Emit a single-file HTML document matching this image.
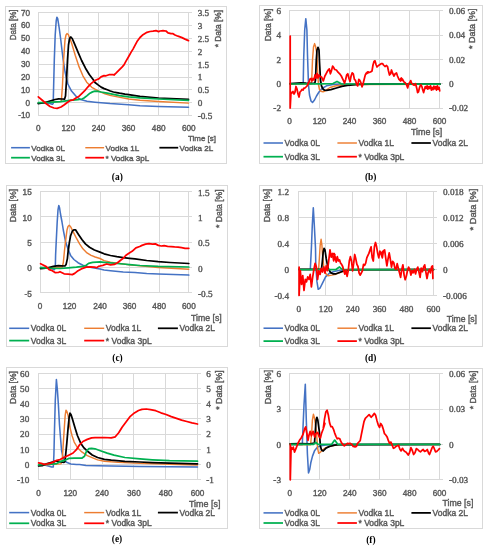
<!DOCTYPE html>
<html><head><meta charset="utf-8"><style>
html,body{margin:0;padding:0;background:#fff;}
svg{display:block;}
text{stroke:#595959;stroke-width:0.4px;}
.t{font-family:"Liberation Sans", Arial, sans-serif;font-size:8.2px;fill:#595959;}
.l{font-family:"Liberation Sans", Arial, sans-serif;font-size:8.1px;fill:#595959;}
.ts{font-family:"Liberation Serif",serif;font-size:9.2px;fill:#595959;}
.cap{font-family:"Liberation Serif",serif;font-size:9.4px;font-weight:bold;fill:#000;stroke:none;}
</style></head><body>
<svg width="489" height="550" viewBox="0 0 489 550">
<rect x="5.5" y="6.5" width="221.0" height="157.0" fill="#fff" stroke="#d9d9d9" stroke-width="1"/>
<path d="M38.0,12.5H192.0 M38.0,25.5H192.0 M38.0,38.5H192.0 M38.0,51.5H192.0 M38.0,64.5H192.0 M38.0,77.5H192.0 M38.0,89.5H192.0 M38.0,102.5H192.0 M38.0,115.5H192.0 M38.5,12.0V116.0 M68.5,12.0V116.0 M98.5,12.0V116.0 M128.5,12.0V116.0 M158.5,12.0V116.0 M188.5,12.0V116.0" stroke="#d9d9d9" stroke-width="1" fill="none"/>
<text x="30.00" y="15.60" text-anchor="end" class="t">70</text>
<text x="30.00" y="28.45" text-anchor="end" class="t">60</text>
<text x="30.00" y="41.30" text-anchor="end" class="t">50</text>
<text x="30.00" y="54.15" text-anchor="end" class="t">40</text>
<text x="30.00" y="67.00" text-anchor="end" class="t">30</text>
<text x="30.00" y="79.85" text-anchor="end" class="t">20</text>
<text x="30.00" y="92.70" text-anchor="end" class="t">10</text>
<text x="30.00" y="105.55" text-anchor="end" class="t">0</text>
<text x="30.00" y="118.40" text-anchor="end" class="t">-10</text>
<text x="197.70" y="16.10" class="ts">3.5</text>
<text x="197.70" y="28.95" class="ts">3</text>
<text x="197.70" y="41.80" class="ts">2.5</text>
<text x="197.70" y="54.65" class="ts">2</text>
<text x="197.70" y="67.50" class="ts">1.5</text>
<text x="197.70" y="80.35" class="ts">1</text>
<text x="197.70" y="93.20" class="ts">0.5</text>
<text x="197.70" y="106.05" class="ts">0</text>
<text x="197.70" y="118.90" class="ts">-0.5</text>
<text x="38.30" y="130.60" text-anchor="middle" class="t">0</text>
<text x="68.40" y="130.60" text-anchor="middle" class="t">120</text>
<text x="98.50" y="130.60" text-anchor="middle" class="t">240</text>
<text x="128.60" y="130.60" text-anchor="middle" class="t">360</text>
<text x="158.70" y="130.60" text-anchor="middle" class="t">480</text>
<text x="188.80" y="130.60" text-anchor="middle" class="t">600</text>
<text x="188.00" y="141.10" textLength="28" lengthAdjust="spacingAndGlyphs" class="t" style="font-size:8.1px">Time [s]</text>
<text transform="translate(16.30,24.9) rotate(-90)" text-anchor="middle" textLength="30.8" lengthAdjust="spacingAndGlyphs" class="t">Data [%]</text>
<text transform="translate(220.50,28.7) rotate(-90)" text-anchor="middle" textLength="37.3" lengthAdjust="spacingAndGlyphs" class="t">* Data [%]</text>
<path d="M38.3,103.2 45.0,103.2 50.0,103.5 52.3,104.3 53.2,103.5 54.3,60.0 55.2,35.0 56.2,21.0 56.9,17.2 57.7,18.6 59.2,28.0 60.8,40.0 62.2,52.0 63.2,60.0 65.1,72.0 67.6,83.5 71.5,91.1 76.5,96.8 80.4,99.4 87.0,101.3 95.0,102.2 110.0,103.6 128.7,104.8 140.0,105.8 158.6,106.5 188.5,107.2" fill="none" stroke="#4472c4" stroke-width="1.55" stroke-linejoin="round" stroke-linecap="round"/>
<path d="M38.3,103.0 45.0,102.5 50.0,102.0 55.0,101.7 61.3,101.5 62.5,85.0 63.6,60.0 65.0,40.0 66.0,35.0 67.0,33.6 68.3,34.5 71.5,42.7 75.3,55.5 79.1,66.9 82.9,75.8 86.7,82.2 91.8,87.3 95.0,89.2 98.6,91.1 105.0,93.8 110.0,95.4 120.0,97.4 128.7,99.0 140.0,100.3 158.6,101.5 188.5,103.1" fill="none" stroke="#ed7d31" stroke-width="1.45" stroke-linejoin="round" stroke-linecap="round"/>
<path d="M38.3,103.6 45.0,102.5 50.0,101.0 55.0,99.5 58.7,98.8 62.0,99.0 64.5,99.2 65.5,96.0 66.5,80.0 67.5,60.0 68.5,45.0 69.6,38.5 70.8,37.0 72.2,38.5 74.0,42.7 77.8,51.6 81.6,60.5 85.5,68.2 89.3,74.5 93.1,79.6 95.0,82.5 98.1,84.9 101.1,87.1 104.2,88.6 107.3,89.8 110.3,91.0 113.4,92.0 116.5,92.6 119.5,93.2 125.0,94.1 128.7,94.6 135.0,95.6 140.0,96.4 158.6,98.0 188.5,99.3" fill="none" stroke="#000000" stroke-width="1.75" stroke-linejoin="round" stroke-linecap="round"/>
<path d="M38.3,102.7 50.0,102.3 60.0,101.6 70.0,100.4 78.0,99.6 82.0,99.0 84.0,98.0 87.1,95.6 90.0,93.2 92.5,91.9 95.0,91.1 98.1,91.3 101.1,92.0 107.3,93.2 113.4,94.4 119.5,95.6 125.0,96.3 128.7,96.8 135.0,97.3 140.0,97.8 158.6,99.0 188.5,100.3" fill="none" stroke="#00b050" stroke-width="1.75" stroke-linejoin="round" stroke-linecap="round"/>
<path d="M38.3,96.9 42.0,100.0 46.0,103.5 50.0,106.5 54.0,108.0 57.1,108.3 61.0,107.0 64.0,105.0 67.6,102.2 70.5,100.3 73.4,99.8 76.0,98.0 79.1,96.2 82.0,93.3 85.5,89.8 88.0,86.8 90.5,84.1 94.4,80.9 96.5,79.8 98.8,78.9 101.0,76.9 104.0,75.6 106.0,75.8 109.0,74.7 113.0,74.7 114.0,75.0 116.0,73.1 119.0,70.1 122.0,67.1 124.0,64.9 126.0,61.1 128.7,56.5 131.0,52.4 133.0,49.1 135.0,45.3 137.0,41.6 140.0,37.5 143.0,34.7 147.0,32.3 150.0,31.5 153.0,31.2 156.0,30.7 158.6,31.6 160.0,31.0 163.0,30.7 166.0,31.0 168.0,32.9 171.0,33.6 173.0,33.7 175.0,35.0 178.0,36.2 182.0,37.6 185.0,39.1 188.5,40.6" fill="none" stroke="#ff0000" stroke-width="1.75" stroke-linejoin="round" stroke-linecap="round"/>
<path d="M11.1,147.7h18.8" stroke="#4472c4" stroke-width="1.55"/>
<text x="31.30" y="150.65" class="l" style="font-size:8.1px">Vodka 0L</text>
<path d="M85.3,147.7h18.8" stroke="#ed7d31" stroke-width="1.45"/>
<text x="105.50" y="150.65" class="l" style="font-size:8.1px">Vodka 1L</text>
<path d="M159.4,147.7h18.8" stroke="#000000" stroke-width="1.75"/>
<text x="179.60" y="150.65" class="l" style="font-size:8.1px">Vodka 2L</text>
<path d="M11.1,157.7h18.8" stroke="#00b050" stroke-width="1.75"/>
<text x="31.30" y="160.65" class="l" style="font-size:8.1px">Vodka 3L</text>
<path d="M85.3,157.7h18.8" stroke="#ff0000" stroke-width="1.75"/>
<text x="105.50" y="160.65" class="l" style="font-size:8.1px">* Vodka 3pL</text>
<text x="117.3" y="179.90" text-anchor="middle" class="cap">(a)</text>
<rect x="259.5" y="5.5" width="223.0" height="158.0" fill="#fff" stroke="#d9d9d9" stroke-width="1"/>
<path d="M289.0,10.5H443.0 M289.0,35.5H443.0 M289.0,59.5H443.0 M289.0,83.5H443.0 M289.0,108.5H443.0 M289.5,10.0V109.0 M319.5,10.0V109.0 M349.5,10.0V109.0 M379.5,10.0V109.0 M409.5,10.0V109.0 M439.5,10.0V109.0" stroke="#d9d9d9" stroke-width="1" fill="none"/>
<text x="281.00" y="14.10" text-anchor="end" class="ts">6</text>
<text x="281.00" y="38.40" text-anchor="end" class="ts">4</text>
<text x="281.00" y="62.70" text-anchor="end" class="ts">2</text>
<text x="281.00" y="87.00" text-anchor="end" class="ts">0</text>
<text x="281.00" y="111.30" text-anchor="end" class="ts">-2</text>
<text x="449.00" y="14.10" class="ts">0.06</text>
<text x="449.00" y="38.40" class="ts">0.04</text>
<text x="449.00" y="62.70" class="ts">0.02</text>
<text x="449.00" y="87.00" class="ts">0</text>
<text x="449.00" y="111.30" class="ts">-0.02</text>
<text x="289.60" y="124.10" text-anchor="middle" class="t">0</text>
<text x="319.60" y="124.10" text-anchor="middle" class="t">120</text>
<text x="349.60" y="124.10" text-anchor="middle" class="t">240</text>
<text x="379.60" y="124.10" text-anchor="middle" class="t">360</text>
<text x="409.60" y="124.10" text-anchor="middle" class="t">480</text>
<text x="439.60" y="124.10" text-anchor="middle" class="t">600</text>
<text x="410.90" y="135.10" textLength="31.4" lengthAdjust="spacingAndGlyphs" class="t" style="font-size:8.5px">Time [s]</text>
<text transform="translate(270.50,25) rotate(-90)" text-anchor="middle" textLength="32.5" lengthAdjust="spacingAndGlyphs" class="t">Data [%]</text>
<text transform="translate(474.80,28.65) rotate(-90)" text-anchor="middle" textLength="40.5" lengthAdjust="spacingAndGlyphs" class="t">* Data [%]</text>
<path d="M290.0,84.0 302.0,84.0 303.2,84.0 303.7,58.0 304.7,30.0 305.8,18.7 306.9,30.0 307.5,55.0 308.5,85.0 309.5,95.0 311.0,101.0 312.5,102.5 314.5,100.0 316.5,96.0 319.0,92.0 322.0,88.5 326.5,85.8 333.1,84.4 341.8,84.0 440.0,84.0" fill="none" stroke="#4472c4" stroke-width="1.55" stroke-linejoin="round" stroke-linecap="round"/>
<path d="M290.0,84.0 311.0,84.0 311.7,80.0 312.5,60.0 313.5,47.0 314.6,43.6 315.7,47.0 317.0,55.0 317.8,75.0 318.5,85.0 319.5,89.5 321.0,91.2 323.0,91.8 325.0,91.0 327.0,89.5 330.0,87.5 335.0,86.0 342.0,85.0 350.0,84.5 440.0,84.3" fill="none" stroke="#ed7d31" stroke-width="1.45" stroke-linejoin="round" stroke-linecap="round"/>
<path d="M290.0,83.6 301.0,82.8 306.0,83.2 314.8,83.3 315.5,80.0 316.3,60.0 317.0,50.0 318.0,47.3 319.0,50.0 319.5,62.0 320.5,80.0 321.5,86.0 323.0,89.0 324.5,90.2 326.5,90.4 330.9,89.7 336.4,88.0 341.8,86.4 347.3,85.3 352.8,84.8 358.2,84.5 370.0,84.2 440.0,84.1" fill="none" stroke="#000000" stroke-width="1.75" stroke-linejoin="round" stroke-linecap="round"/>
<path d="M290.0,84.0 320.0,83.8 333.0,83.6 335.0,82.5 337.0,81.5 339.0,82.5 341.0,83.8 360.0,84.0 440.0,84.0" fill="none" stroke="#00b050" stroke-width="1.75" stroke-linejoin="round" stroke-linecap="round"/>
<path d="M290.2,36.0 290.2,108.0 291.0,92.0 292.0,93.0 293.0,91.5 294.0,94.0 295.0,92.0 296.0,86.5 297.0,89.0 298.0,94.0 299.0,97.0 300.0,92.0 301.0,91.0 302.0,89.5 303.0,90.0 304.0,88.0 305.0,88.0 306.0,87.0 307.0,86.0 308.0,84.0 309.0,82.0 310.0,79.0 311.0,78.5 312.0,81.0 313.0,78.5 314.0,80.0 315.0,75.0 316.0,78.0 317.0,73.5 318.0,78.0 319.0,75.0 320.0,76.5 321.6,77.1 323.3,80.9 324.9,76.0 326.6,72.8 328.2,70.0 329.3,68.9 330.4,73.8 331.5,70.6 332.6,66.2 333.6,67.3 334.7,69.5 336.4,70.0 338.0,72.2 339.7,73.8 341.3,76.0 342.9,79.3 344.6,83.1 345.7,79.3 346.7,74.9 347.8,73.8 348.9,78.2 350.0,81.5 351.1,76.0 352.2,72.8 353.3,73.8 354.4,79.3 355.5,80.4 356.6,84.2 357.7,85.9 358.8,79.3 359.8,80.4 360.9,82.6 362.0,86.9 363.1,83.7 364.2,79.3 365.3,74.9 366.4,72.8 368.0,72.8 366.0,74.0 367.0,72.5 368.0,71.8 369.0,72.5 370.5,72.0 372.0,71.0 373.0,65.0 374.0,61.5 375.0,60.8 376.0,64.5 377.0,67.0 378.5,65.5 380.0,64.5 381.5,63.5 382.5,63.5 383.5,65.0 385.0,66.5 386.5,65.5 387.5,66.5 388.5,71.0 389.5,75.0 390.5,74.0 391.5,70.0 392.5,73.0 394.0,76.0 395.0,74.0 396.5,73.0 397.5,76.0 399.0,79.5 400.5,81.0 401.5,78.5 403.0,80.5 400.0,79.8 401.3,78.0 402.6,79.3 403.9,81.9 405.2,82.8 406.4,84.5 407.7,87.9 408.6,84.1 409.9,82.3 410.7,80.6 411.6,83.2 412.9,84.5 414.2,85.3 415.5,83.6 416.8,88.4 417.6,92.6 418.5,91.8 419.3,88.4 420.2,85.8 421.0,84.9 421.9,86.6 422.8,90.1 423.6,92.6 424.5,89.2 425.3,86.6 426.2,88.4 427.1,85.8 427.9,89.2 428.8,86.6 429.6,88.4 430.5,85.8 431.4,90.1 432.2,87.5 433.1,89.6 433.9,86.2 434.8,88.8 435.7,86.6 436.5,90.1 437.4,85.8 438.2,89.2 439.1,87.5 439.7,90.9" fill="none" stroke="#ff0000" stroke-width="1.75" stroke-linejoin="round" stroke-linecap="round"/>
<path d="M263.5,143h19.5" stroke="#4472c4" stroke-width="1.55"/>
<text x="284.60" y="145.95" class="l" style="font-size:8.5px">Vodka 0L</text>
<path d="M337.4,143h19.5" stroke="#ed7d31" stroke-width="1.45"/>
<text x="358.50" y="145.95" class="l" style="font-size:8.5px">Vodka 1L</text>
<path d="M411.4,143h19.5" stroke="#000000" stroke-width="1.75"/>
<text x="432.50" y="145.95" class="l" style="font-size:8.5px">Vodka 2L</text>
<path d="M263.5,156.7h19.5" stroke="#00b050" stroke-width="1.75"/>
<text x="284.60" y="159.65" class="l" style="font-size:8.5px">Vodka 3L</text>
<path d="M337.4,156.7h19.5" stroke="#ff0000" stroke-width="1.75"/>
<text x="358.50" y="159.65" class="l" style="font-size:8.5px">* Vodka 3pL</text>
<text x="370.7" y="179.90" text-anchor="middle" class="cap">(b)</text>
<rect x="6.5" y="185.5" width="221.0" height="161.0" fill="#fff" stroke="#d9d9d9" stroke-width="1"/>
<path d="M40.0,191.5H192.0 M40.0,216.5H192.0 M40.0,242.5H192.0 M40.0,267.5H192.0 M40.0,292.5H192.0 M40.5,191.0V293.0 M69.5,191.0V293.0 M100.5,191.0V293.0 M129.5,191.0V293.0 M159.5,191.0V293.0 M188.5,191.0V293.0" stroke="#d9d9d9" stroke-width="1" fill="none"/>
<text x="31.70" y="195.30" text-anchor="end" class="t">15</text>
<text x="31.70" y="220.60" text-anchor="end" class="t">10</text>
<text x="31.70" y="245.90" text-anchor="end" class="t">5</text>
<text x="31.70" y="271.20" text-anchor="end" class="t">0</text>
<text x="31.70" y="296.50" text-anchor="end" class="t">-5</text>
<text x="198.00" y="195.80" class="ts">1.5</text>
<text x="198.00" y="221.10" class="ts">1</text>
<text x="198.00" y="246.40" class="ts">0.5</text>
<text x="198.00" y="271.70" class="ts">0</text>
<text x="198.00" y="297.00" class="ts">-0.5</text>
<text x="40.10" y="309.00" text-anchor="middle" class="t">0</text>
<text x="69.60" y="309.00" text-anchor="middle" class="t">120</text>
<text x="100.10" y="309.00" text-anchor="middle" class="t">240</text>
<text x="129.60" y="309.00" text-anchor="middle" class="t">360</text>
<text x="159.20" y="309.00" text-anchor="middle" class="t">480</text>
<text x="188.90" y="309.00" text-anchor="middle" class="t">600</text>
<text x="191.00" y="320.70" textLength="30.7" lengthAdjust="spacingAndGlyphs" class="t" style="font-size:8.5px">Time [s]</text>
<text transform="translate(15.80,205.5) rotate(-90)" text-anchor="middle" textLength="33.5" lengthAdjust="spacingAndGlyphs" class="t">Data [%]</text>
<text transform="translate(222.00,208.7) rotate(-90)" text-anchor="middle" textLength="38.7" lengthAdjust="spacingAndGlyphs" class="t">* Data [%]</text>
<path d="M40.5,267.6 50.0,267.8 54.4,269.7 55.3,268.0 55.6,255.0 56.3,240.0 57.2,222.0 58.0,210.0 58.8,205.5 59.6,208.0 60.5,214.0 62.0,222.0 63.3,230.0 65.7,242.3 68.2,249.6 70.6,255.4 73.9,259.5 78.0,262.7 82.9,265.2 87.8,266.8 92.7,267.8 100.0,269.1 104.1,270.0 110.5,270.7 123.2,272.0 135.0,272.4 146.7,273.4 158.3,274.0 188.8,275.1" fill="none" stroke="#4472c4" stroke-width="1.55" stroke-linejoin="round" stroke-linecap="round"/>
<path d="M40.5,267.8 55.0,267.2 62.3,267.0 63.3,262.7 64.5,250.5 65.7,239.8 67.0,230.0 68.0,226.5 69.2,225.3 70.5,226.5 73.1,231.6 76.4,238.2 79.6,243.9 82.9,248.8 87.0,252.9 91.1,255.4 95.2,257.0 100.0,258.5 104.1,260.6 110.5,262.1 116.8,263.1 123.2,264.0 129.5,264.9 140.0,265.9 158.3,267.5 188.8,269.3" fill="none" stroke="#ed7d31" stroke-width="1.45" stroke-linejoin="round" stroke-linecap="round"/>
<path d="M40.6,268.6 48.2,267.8 53.3,266.4 58.4,265.6 64.9,266.0 66.1,264.4 67.4,258.6 68.2,250.5 69.4,242.3 70.6,235.7 72.3,231.2 73.8,229.8 75.5,229.8 78.8,234.9 82.1,239.8 85.4,243.9 89.5,247.2 94.4,250.0 100.0,252.1 104.1,253.8 110.5,255.5 116.8,256.7 123.2,257.6 129.5,258.3 135.0,258.8 146.7,260.5 158.3,261.7 170.0,262.5 188.8,263.5" fill="none" stroke="#000000" stroke-width="1.75" stroke-linejoin="round" stroke-linecap="round"/>
<path d="M40.6,267.6 48.2,268.1 60.0,268.5 68.2,267.8 76.4,267.2 82.9,266.4 86.2,265.2 88.6,263.4 92.7,262.3 100.0,261.9 104.1,262.3 110.5,262.9 116.8,263.4 123.2,264.0 129.5,264.6 140.0,265.5 158.3,266.4 188.8,267.0" fill="none" stroke="#00b050" stroke-width="1.75" stroke-linejoin="round" stroke-linecap="round"/>
<path d="M40.6,263.7 43.1,265.0 46.2,266.6 49.2,269.7 52.3,270.7 55.4,272.7 58.4,272.5 60.0,271.7 64.1,273.8 68.2,274.2 72.3,274.6 74.7,273.4 77.2,271.3 81.3,268.9 86.2,267.2 90.3,266.8 94.4,267.2 96.8,267.6 98.5,266.4 100.0,266.0 102.8,265.3 106.6,264.0 110.5,264.9 114.3,264.4 117.5,262.7 120.6,260.2 123.2,258.3 125.7,255.5 128.9,253.2 132.1,251.3 135.9,247.8 139.7,246.5 142.0,245.4 145.5,244.2 149.0,243.6 152.5,244.2 155.4,243.9 158.3,245.4 161.2,246.0 164.1,245.7 167.6,246.3 171.1,246.6 174.6,246.9 178.1,247.1 181.6,247.7 185.1,248.3 188.8,248.3" fill="none" stroke="#ff0000" stroke-width="1.75" stroke-linejoin="round" stroke-linecap="round"/>
<path d="M9.2,328.3h20" stroke="#4472c4" stroke-width="1.55"/>
<text x="30.80" y="331.25" class="l" style="font-size:8.5px">Vodka 0L</text>
<path d="M84.2,328.3h20" stroke="#ed7d31" stroke-width="1.45"/>
<text x="105.80" y="331.25" class="l" style="font-size:8.5px">Vodka 1L</text>
<path d="M157.9,328.3h20" stroke="#000000" stroke-width="1.75"/>
<text x="179.50" y="331.25" class="l" style="font-size:8.5px">Vodka 2L</text>
<path d="M9.2,340.6h20" stroke="#00b050" stroke-width="1.75"/>
<text x="30.80" y="343.55" class="l" style="font-size:8.5px">Vodka 3L</text>
<path d="M84.2,340.6h20" stroke="#ff0000" stroke-width="1.75"/>
<text x="105.80" y="343.55" class="l" style="font-size:8.5px">* Vodka 3pL</text>
<text x="117.5" y="361.10" text-anchor="middle" class="cap">(c)</text>
<rect x="259.5" y="185.5" width="223.0" height="161.0" fill="#fff" stroke="#d9d9d9" stroke-width="1"/>
<path d="M298.0,191.5H437.0 M298.0,217.5H437.0 M298.0,243.5H437.0 M298.0,269.5H437.0 M298.0,295.5H437.0 M298.5,191.0V296.0 M325.5,191.0V296.0 M352.5,191.0V296.0 M379.5,191.0V296.0 M406.5,191.0V296.0 M433.5,191.0V296.0" stroke="#d9d9d9" stroke-width="1" fill="none"/>
<text x="289.00" y="195.10" text-anchor="end" class="ts">1.2</text>
<text x="289.00" y="220.98" text-anchor="end" class="ts">0.8</text>
<text x="289.00" y="246.85" text-anchor="end" class="ts">0.4</text>
<text x="289.00" y="272.73" text-anchor="end" class="ts">0</text>
<text x="289.00" y="298.60" text-anchor="end" class="ts">-0.4</text>
<text x="443.00" y="195.10" class="ts">0.018</text>
<text x="443.00" y="220.98" class="ts">0.012</text>
<text x="443.00" y="246.85" class="ts">0.006</text>
<text x="443.00" y="272.73" class="ts">0</text>
<text x="443.00" y="298.60" class="ts">-0.006</text>
<text x="298.80" y="311.60" text-anchor="middle" class="ts">0</text>
<text x="325.72" y="311.60" text-anchor="middle" class="ts">120</text>
<text x="352.64" y="311.60" text-anchor="middle" class="ts">240</text>
<text x="379.56" y="311.60" text-anchor="middle" class="ts">360</text>
<text x="406.48" y="311.60" text-anchor="middle" class="ts">480</text>
<text x="433.40" y="311.60" text-anchor="middle" class="ts">600</text>
<text x="446.70" y="321.70" textLength="30.3" lengthAdjust="spacingAndGlyphs" class="t" style="font-size:8.5px">Time [s]</text>
<text transform="translate(270.30,205.5) rotate(-90)" text-anchor="middle" textLength="33.5" lengthAdjust="spacingAndGlyphs" class="t">Data [%]</text>
<text transform="translate(475.90,209.6) rotate(-90)" text-anchor="middle" textLength="41.7" lengthAdjust="spacingAndGlyphs" class="t">* Data [%]</text>
<path d="M299.0,269.5 310.3,269.5 311.4,248.0 312.3,225.0 313.3,207.8 314.3,225.0 315.5,248.0 315.8,267.0 317.0,281.9 318.2,289.3 320.1,288.0 322.5,283.1 325.6,276.9 329.3,273.2 334.0,271.5 340.0,270.3 346.0,269.7 433.5,269.5" fill="none" stroke="#4472c4" stroke-width="1.55" stroke-linejoin="round" stroke-linecap="round"/>
<path d="M299.0,269.5 318.6,269.5 319.4,258.0 320.2,245.0 321.1,239.3 321.9,245.0 322.5,254.7 323.8,267.0 325.6,273.2 328.1,275.7 331.8,275.1 336.0,274.2 340.0,272.5 345.0,270.5 350.0,269.7 433.5,269.5" fill="none" stroke="#ed7d31" stroke-width="1.45" stroke-linejoin="round" stroke-linecap="round"/>
<path d="M299.0,269.3 321.5,269.3 322.3,262.0 323.2,252.0 324.1,248.3 325.0,250.0 326.2,258.4 328.1,268.3 330.6,272.6 333.0,273.8 336.0,273.8 339.5,272.5 344.9,270.5 350.0,269.7 433.5,269.5" fill="none" stroke="#000000" stroke-width="1.75" stroke-linejoin="round" stroke-linecap="round"/>
<path d="M299.0,269.5 336.0,269.5 338.0,268.0 339.5,267.0 341.0,268.5 343.0,269.5 433.5,269.5" fill="none" stroke="#00b050" stroke-width="1.75" stroke-linejoin="round" stroke-linecap="round"/>
<path d="M299.1,267.0 299.1,295.4 300.3,270.7 301.6,284.3 302.8,275.7 304.0,290.5 305.3,279.4 306.5,281.9 307.7,276.9 309.0,279.4 310.2,274.4 311.4,286.8 312.7,276.9 313.9,269.5 315.1,263.3 316.4,267.0 317.6,279.4 318.8,270.7 320.1,274.4 321.3,268.3 322.5,272.0 323.8,267.0 325.0,273.2 326.2,265.8 327.5,270.7 328.7,260.9 330.0,249.8 331.2,257.2 332.4,253.5 333.7,260.9 334.9,254.7 334.0,253.4 335.1,256.7 336.2,262.1 337.3,256.7 338.4,261.0 339.5,259.9 340.6,263.2 341.6,264.3 342.7,266.5 343.8,270.9 344.9,274.1 346.0,269.8 347.1,276.3 348.2,270.9 349.3,261.0 350.4,256.7 351.5,261.0 352.6,270.9 353.7,263.2 354.7,254.5 355.8,258.8 356.9,264.3 358.0,266.5 359.1,273.0 360.2,275.2 361.3,273.0 362.4,270.9 363.5,264.3 364.6,265.4 365.7,263.2 366.8,257.8 367.8,255.6 368.9,253.4 370.0,250.1 371.1,246.8 372.2,257.8 373.3,261.0 374.4,246.8 375.5,242.5 376.6,246.8 377.7,253.4 378.8,257.8 379.9,251.2 380.9,253.4 382.0,256.7 383.1,251.2 381.1,253.3 382.3,257.9 383.4,251.0 384.6,249.9 385.7,257.9 386.9,265.9 388.0,259.1 389.2,252.8 390.3,259.1 391.5,267.1 392.6,261.3 393.7,262.5 394.9,268.2 396.0,269.4 397.2,263.6 398.3,268.2 399.5,272.8 400.6,277.4 401.8,269.4 402.9,264.8 404.1,275.1 405.2,279.7 406.3,276.2 407.5,270.5 408.6,267.1 409.8,269.4 410.9,275.1 412.1,270.5 413.2,272.8 414.4,269.4 415.5,273.9 416.7,269.4 417.8,267.1 418.9,271.7 420.1,277.4 421.2,268.2 422.4,271.7 423.5,267.1 424.7,264.8 425.8,271.7 427.0,278.5 428.1,272.8 429.3,269.4 430.4,272.8 431.5,267.1 432.5,265.9 432.9,278.5" fill="none" stroke="#ff0000" stroke-width="1.75" stroke-linejoin="round" stroke-linecap="round"/>
<path d="M263.5,328.2h19.5" stroke="#4472c4" stroke-width="1.55"/>
<text x="284.60" y="331.15" class="l" style="font-size:8.5px">Vodka 0L</text>
<path d="M337.4,328.2h19.5" stroke="#ed7d31" stroke-width="1.45"/>
<text x="358.50" y="331.15" class="l" style="font-size:8.5px">Vodka 1L</text>
<path d="M411.4,328.2h19.5" stroke="#000000" stroke-width="1.75"/>
<text x="432.50" y="331.15" class="l" style="font-size:8.5px">Vodka 2L</text>
<path d="M263.5,341.1h19.5" stroke="#00b050" stroke-width="1.75"/>
<text x="284.60" y="344.05" class="l" style="font-size:8.5px">Vodka 3L</text>
<path d="M337.4,341.1h19.5" stroke="#ff0000" stroke-width="1.75"/>
<text x="358.50" y="344.05" class="l" style="font-size:8.5px">* Vodka 3pL</text>
<text x="370.7" y="360.50" text-anchor="middle" class="cap">(d)</text>
<rect x="6.5" y="367.5" width="221.0" height="161.0" fill="#fff" stroke="#d9d9d9" stroke-width="1"/>
<path d="M38.0,373.5H201.0 M38.0,388.5H201.0 M38.0,403.5H201.0 M38.0,418.5H201.0 M38.0,434.5H201.0 M38.0,449.5H201.0 M38.0,464.5H201.0 M38.0,479.5H201.0 M38.5,373.0V480.0 M70.5,373.0V480.0 M102.5,373.0V480.0 M133.5,373.0V480.0 M165.5,373.0V480.0 M197.5,373.0V480.0" stroke="#d9d9d9" stroke-width="1" fill="none"/>
<text x="29.30" y="376.80" text-anchor="end" class="ts">60</text>
<text x="29.30" y="391.94" text-anchor="end" class="ts">50</text>
<text x="29.30" y="407.09" text-anchor="end" class="ts">40</text>
<text x="29.30" y="422.23" text-anchor="end" class="ts">30</text>
<text x="29.30" y="437.37" text-anchor="end" class="ts">20</text>
<text x="29.30" y="452.51" text-anchor="end" class="ts">10</text>
<text x="29.30" y="467.66" text-anchor="end" class="ts">0</text>
<text x="29.30" y="482.80" text-anchor="end" class="ts">-10</text>
<text x="206.30" y="376.80" class="ts">6</text>
<text x="206.30" y="391.94" class="ts">5</text>
<text x="206.30" y="407.09" class="ts">4</text>
<text x="206.30" y="422.23" class="ts">3</text>
<text x="206.30" y="437.37" class="ts">2</text>
<text x="206.30" y="452.51" class="ts">1</text>
<text x="206.30" y="467.66" class="ts">0</text>
<text x="206.30" y="482.80" class="ts">-1</text>
<text x="38.50" y="495.60" text-anchor="middle" class="t">0</text>
<text x="70.30" y="495.60" text-anchor="middle" class="t">120</text>
<text x="102.10" y="495.60" text-anchor="middle" class="t">240</text>
<text x="133.90" y="495.60" text-anchor="middle" class="t">360</text>
<text x="165.70" y="495.60" text-anchor="middle" class="t">480</text>
<text x="197.50" y="495.60" text-anchor="middle" class="t">600</text>
<text x="189.00" y="506.90" textLength="31.4" lengthAdjust="spacingAndGlyphs" class="t" style="font-size:8.5px">Time [s]</text>
<text transform="translate(16.30,387.5) rotate(-90)" text-anchor="middle" textLength="32.8" lengthAdjust="spacingAndGlyphs" class="t">Data [%]</text>
<text transform="translate(221.50,390) rotate(-90)" text-anchor="middle" textLength="39.6" lengthAdjust="spacingAndGlyphs" class="t">* Data [%]</text>
<path d="M38.6,465.5 44.3,465.0 48.4,466.0 51.6,467.0 53.3,467.0 53.9,455.0 54.5,430.0 55.3,400.0 56.4,379.6 57.4,390.0 58.4,405.0 59.5,425.0 60.5,437.7 61.6,450.8 63.3,458.4 66.5,462.3 70.9,463.9 76.4,464.4 79.6,464.6 86.0,465.5 97.6,465.7 111.2,466.1 140.0,466.5 169.5,466.7 197.5,466.9" fill="none" stroke="#4472c4" stroke-width="1.55" stroke-linejoin="round" stroke-linecap="round"/>
<path d="M38.6,465.0 50.0,464.5 60.9,463.9 62.0,461.0 62.4,457.3 63.3,443.2 64.4,426.8 65.2,415.0 66.0,410.2 66.9,411.5 68.2,415.9 69.8,426.8 72.0,435.5 74.2,442.1 77.4,447.5 81.8,451.9 87.3,455.7 92.7,457.9 97.6,459.9 104.4,461.3 118.1,462.4 140.0,463.4 169.5,464.3 197.5,465.0" fill="none" stroke="#ed7d31" stroke-width="1.45" stroke-linejoin="round" stroke-linecap="round"/>
<path d="M38.6,466.0 42.2,465.7 46.4,463.9 51.6,462.3 56.7,460.8 60.9,461.8 64.0,462.3 64.9,461.7 65.5,456.3 66.8,443.2 68.2,426.8 69.2,417.0 70.0,413.2 71.0,414.5 72.5,419.2 74.7,426.8 77.4,435.5 80.7,443.2 84.0,447.9 88.2,451.8 92.2,455.0 97.6,457.5 104.4,459.3 111.2,460.2 124.9,461.3 140.0,462.0 152.3,462.6 169.5,463.2 197.5,463.8" fill="none" stroke="#000000" stroke-width="1.75" stroke-linejoin="round" stroke-linecap="round"/>
<path d="M38.6,464.9 44.3,464.4 51.6,464.2 56.7,463.6 60.0,461.7 65.5,460.1 68.7,458.4 74.2,458.2 81.8,458.2 84.5,456.3 86.7,450.8 88.9,448.6 91.6,448.4 95.0,448.8 100.3,450.7 107.2,453.1 114.0,455.2 124.9,457.5 140.0,458.9 152.3,459.8 169.5,460.7 197.5,461.2" fill="none" stroke="#00b050" stroke-width="1.75" stroke-linejoin="round" stroke-linecap="round"/>
<path d="M38.6,462.9 41.2,463.4 44.3,464.4 47.4,463.9 51.6,462.9 56.7,460.3 60.0,459.5 64.4,457.3 68.7,455.2 73.1,453.0 76.4,449.7 79.6,444.8 82.9,441.5 87.3,439.4 91.6,437.9 95.0,437.7 97.6,437.5 104.4,437.5 111.2,437.9 115.3,436.8 118.7,432.7 122.1,427.2 126.2,421.8 130.3,416.3 134.4,412.9 138.5,410.5 141.9,409.4 146.2,409.0 150.5,409.7 155.7,410.7 160.9,412.8 166.1,414.5 171.3,416.6 176.5,418.3 181.6,420.1 186.8,421.5 192.0,422.8 197.5,424.0" fill="none" stroke="#ff0000" stroke-width="1.75" stroke-linejoin="round" stroke-linecap="round"/>
<path d="M9.2,512.6h20" stroke="#4472c4" stroke-width="1.55"/>
<text x="30.80" y="515.55" class="l" style="font-size:8.5px">Vodka 0L</text>
<path d="M84.2,512.6h20" stroke="#ed7d31" stroke-width="1.45"/>
<text x="105.80" y="515.55" class="l" style="font-size:8.5px">Vodka 1L</text>
<path d="M157.9,512.6h20" stroke="#000000" stroke-width="1.75"/>
<text x="179.50" y="515.55" class="l" style="font-size:8.5px">Vodka 2L</text>
<path d="M9.2,523.3h20" stroke="#00b050" stroke-width="1.75"/>
<text x="30.80" y="526.25" class="l" style="font-size:8.5px">Vodka 3L</text>
<path d="M84.2,523.3h20" stroke="#ff0000" stroke-width="1.75"/>
<text x="105.80" y="526.25" class="l" style="font-size:8.5px">* Vodka 3pL</text>
<text x="117" y="542.20" text-anchor="middle" class="cap">(e)</text>
<rect x="259.5" y="368.5" width="223.0" height="160.0" fill="#fff" stroke="#d9d9d9" stroke-width="1"/>
<path d="M289.0,373.5H443.0 M289.0,409.5H443.0 M289.0,444.5H443.0 M289.0,479.5H443.0 M289.5,373.0V480.0 M319.5,373.0V480.0 M349.5,373.0V480.0 M379.5,373.0V480.0 M409.5,373.0V480.0 M439.5,373.0V480.0" stroke="#d9d9d9" stroke-width="1" fill="none"/>
<text x="281.00" y="377.00" text-anchor="end" class="ts">6</text>
<text x="281.00" y="412.40" text-anchor="end" class="ts">3</text>
<text x="281.00" y="447.80" text-anchor="end" class="ts">0</text>
<text x="281.00" y="483.20" text-anchor="end" class="ts">-3</text>
<text x="449.00" y="377.00" class="ts">0.06</text>
<text x="449.00" y="412.40" class="ts">0.03</text>
<text x="449.00" y="447.80" class="ts">0</text>
<text x="449.00" y="483.20" class="ts">-0.03</text>
<text x="289.80" y="495.70" text-anchor="middle" class="t">0</text>
<text x="319.76" y="495.70" text-anchor="middle" class="t">120</text>
<text x="349.72" y="495.70" text-anchor="middle" class="t">240</text>
<text x="379.68" y="495.70" text-anchor="middle" class="t">360</text>
<text x="409.64" y="495.70" text-anchor="middle" class="t">480</text>
<text x="439.60" y="495.70" text-anchor="middle" class="t">600</text>
<text x="442.50" y="505.90" textLength="30.9" lengthAdjust="spacingAndGlyphs" class="t" style="font-size:8.5px">Time [s]</text>
<text transform="translate(270.50,387) rotate(-90)" text-anchor="middle" textLength="34.6" lengthAdjust="spacingAndGlyphs" class="t">Data [%]</text>
<text transform="translate(475.90,390) rotate(-90)" text-anchor="middle" textLength="38.7" lengthAdjust="spacingAndGlyphs" class="t">* Data [%]</text>
<path d="M290.0,444.8 302.3,444.8 302.9,430.0 304.0,405.0 305.3,384.2 306.3,420.0 307.4,453.8 308.5,473.0 309.7,469.6 310.8,462.8 312.5,456.1 314.7,450.4 317.6,447.1 321.0,445.7 326.0,445.0 335.0,444.6 439.7,444.5" fill="none" stroke="#4472c4" stroke-width="1.55" stroke-linejoin="round" stroke-linecap="round"/>
<path d="M290.0,444.5 310.6,444.8 311.5,435.0 312.4,420.0 313.4,414.3 314.5,418.0 316.4,431.3 317.6,448.2 318.7,453.3 319.8,452.7 322.1,450.4 325.8,447.7 329.6,446.4 334.7,445.2 341.0,444.6 439.7,444.5" fill="none" stroke="#ed7d31" stroke-width="1.45" stroke-linejoin="round" stroke-linecap="round"/>
<path d="M290.0,443.9 300.0,443.5 310.0,443.8 314.5,443.0 315.4,430.0 316.1,420.0 316.9,417.3 317.8,420.0 319.3,431.3 320.4,445.9 321.5,449.9 323.2,451.0 325.8,448.3 329.6,446.4 334.7,445.2 341.1,444.5 439.7,444.4" fill="none" stroke="#000000" stroke-width="1.75" stroke-linejoin="round" stroke-linecap="round"/>
<path d="M290.0,444.3 313.5,444.3 315.9,442.5 318.0,444.3 331.5,444.4 334.7,440.1 337.9,444.4 439.7,444.4" fill="none" stroke="#00b050" stroke-width="1.75" stroke-linejoin="round" stroke-linecap="round"/>
<path d="M290.3,444.2 290.3,479.8 291.1,447.1 292.2,449.3 293.3,447.1 294.5,452.1 296.1,448.2 297.8,443.7 299.5,440.3 301.2,438.0 302.9,434.7 304.6,429.0 305.7,426.8 306.9,433.5 308.0,440.3 309.1,434.7 310.2,431.3 311.4,435.8 313.1,431.3 314.7,436.9 315.9,433.5 317.6,432.4 319.3,436.9 320.4,438.0 321.5,433.5 323.2,429.0 324.9,423.4 323.3,428.0 324.5,419.1 325.8,412.1 327.1,410.2 328.4,415.3 329.6,422.9 330.9,426.7 332.2,426.7 333.5,429.3 334.7,433.1 336.0,436.3 337.3,438.8 338.5,438.2 339.8,438.8 341.1,442.0 342.4,443.9 344.3,445.8 346.2,444.5 347.4,443.3 348.7,443.9 350.0,443.3 351.9,444.5 353.2,446.4 355.1,446.8 356.4,446.4 357.6,443.3 358.9,442.0 360.2,440.7 361.4,434.4 362.7,428.0 364.0,421.6 365.3,418.4 367.2,416.5 369.1,414.6 371.2,417.2 372.5,415.9 374.4,413.4 375.6,415.3 376.9,420.4 378.2,424.8 379.5,427.4 380.7,423.5 382.0,425.4 383.3,429.3 384.5,433.7 385.8,435.0 387.1,436.9 388.4,440.7 389.6,443.3 390.9,442.0 392.2,445.2 393.4,448.3 394.7,447.7 396.0,446.4 397.3,445.8 398.5,445.2 399.8,449.0 401.1,450.9 402.4,448.3 403.6,450.3 404.9,451.5 406.2,452.2 408.2,455.0 409.5,452.7 410.9,447.7 412.3,450.5 413.6,454.5 415.0,452.7 416.4,448.6 417.7,449.5 419.1,450.9 420.5,451.8 421.8,450.5 423.2,449.5 424.5,451.4 425.9,450.9 427.3,449.5 428.6,453.2 429.5,454.5 430.9,450.9 432.3,447.3 433.2,446.4 434.1,448.2 435.5,451.8 436.8,451.4 438.2,450.0 439.5,448.6" fill="none" stroke="#ff0000" stroke-width="1.75" stroke-linejoin="round" stroke-linecap="round"/>
<path d="M263.5,512.9h19.5" stroke="#4472c4" stroke-width="1.55"/>
<text x="284.60" y="515.85" class="l" style="font-size:8.5px">Vodka 0L</text>
<path d="M337.4,512.9h19.5" stroke="#ed7d31" stroke-width="1.45"/>
<text x="358.50" y="515.85" class="l" style="font-size:8.5px">Vodka 1L</text>
<path d="M411.4,512.9h19.5" stroke="#000000" stroke-width="1.75"/>
<text x="432.50" y="515.85" class="l" style="font-size:8.5px">Vodka 2L</text>
<path d="M263.5,523h19.5" stroke="#00b050" stroke-width="1.75"/>
<text x="284.60" y="525.95" class="l" style="font-size:8.5px">Vodka 3L</text>
<path d="M337.4,523h19.5" stroke="#ff0000" stroke-width="1.75"/>
<text x="358.50" y="525.95" class="l" style="font-size:8.5px">* Vodka 3pL</text>
<text x="370.9" y="543.40" text-anchor="middle" class="cap">(f)</text>
</svg></body></html>
